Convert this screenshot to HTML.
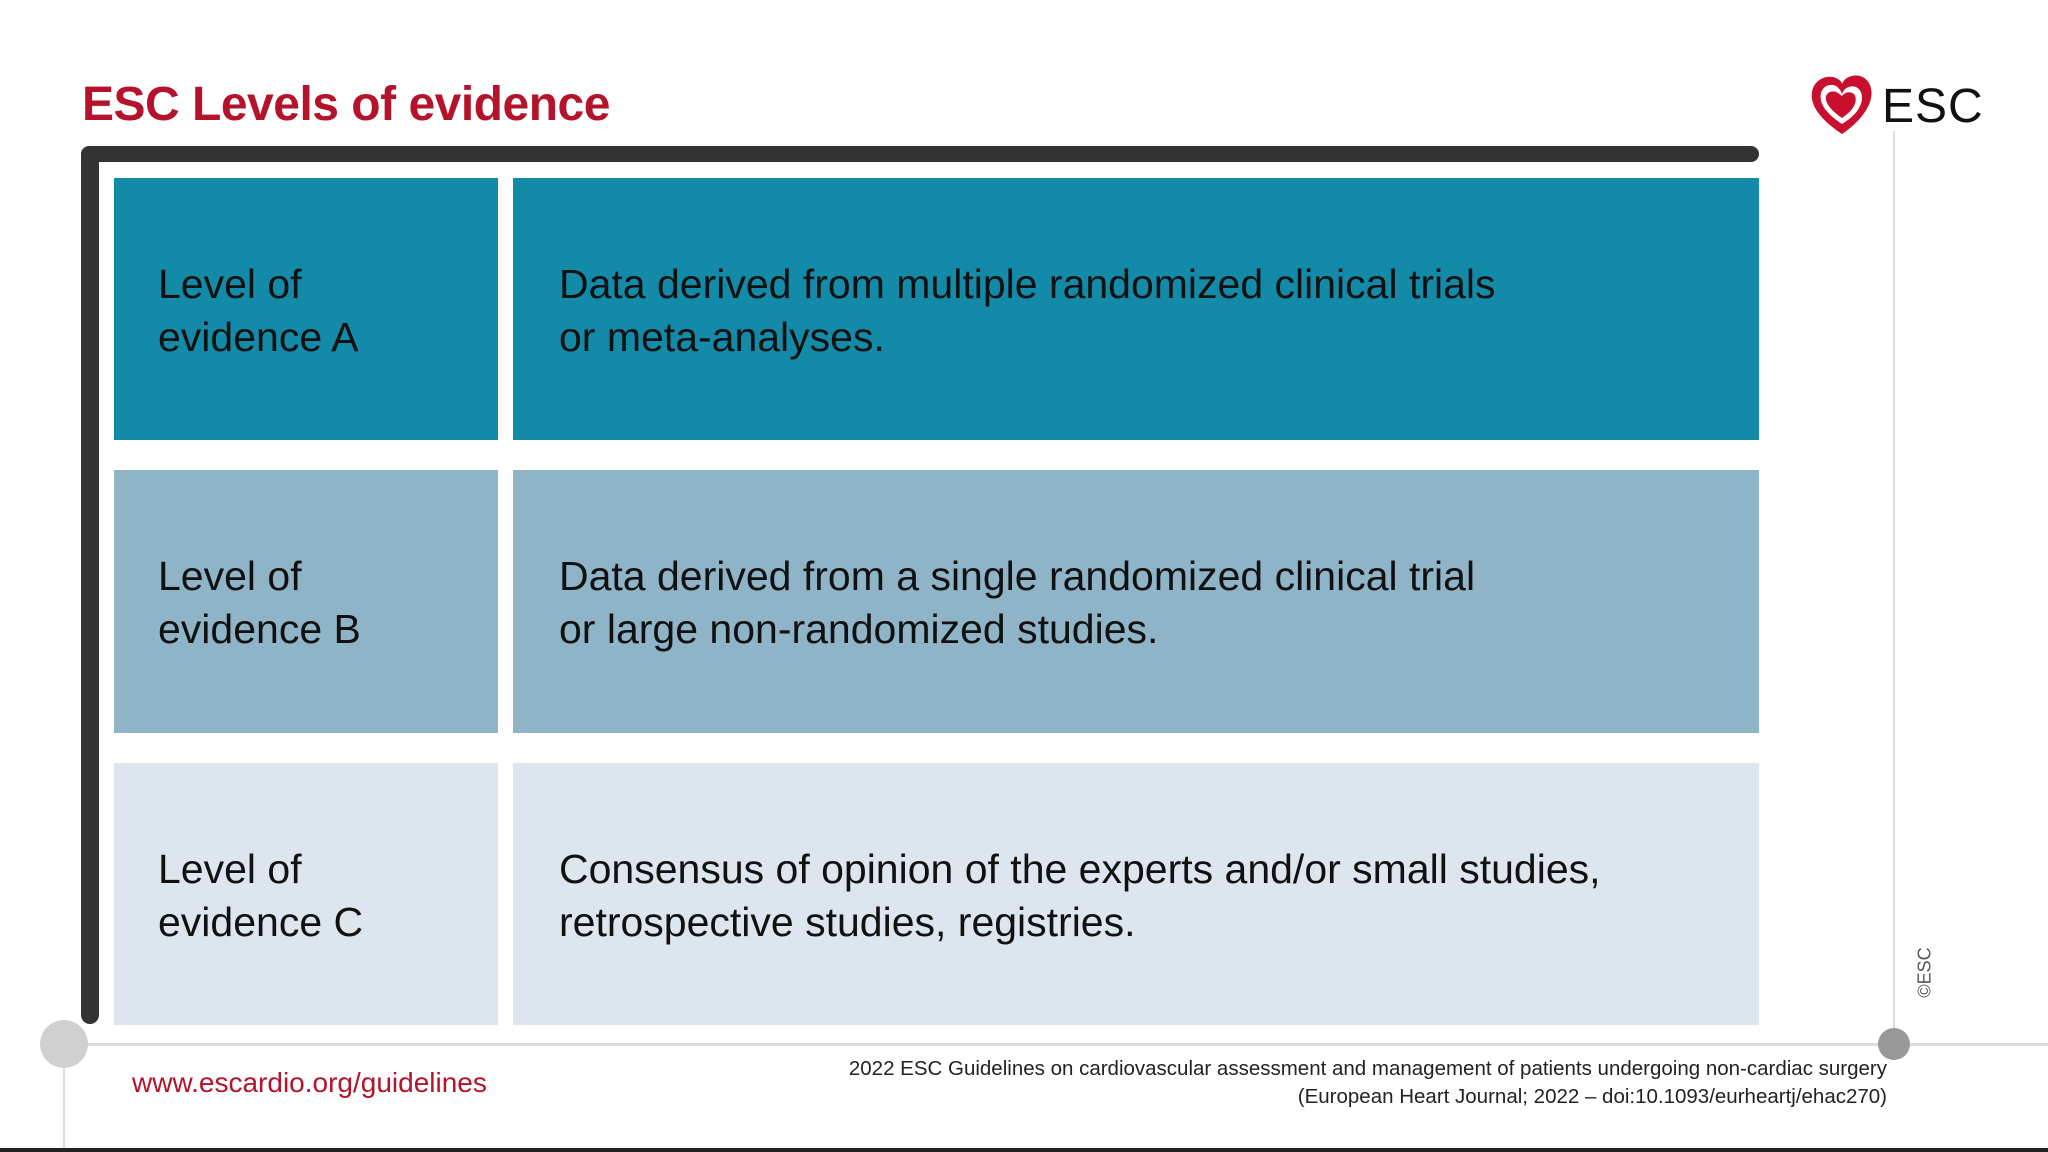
<!DOCTYPE html>
<html><head><meta charset="utf-8"><style>
body{margin:0;width:2048px;height:1152px;position:relative;background:#fff;overflow:hidden;font-family:"Liberation Sans",sans-serif}
div{position:absolute;box-sizing:border-box}
.cell{font-size:41px;line-height:53px;color:#111;padding-top:80px}
.l{left:114px;width:384px;padding-left:44px}
.r{left:513px;width:1246px;padding-left:46px}
</style></head><body>
<div style="left:82px;top:77px;font-size:48px;font-weight:bold;color:#b5132b;letter-spacing:-0.5px">ESC Levels of evidence</div>
<svg style="position:absolute;left:1808px;top:72px" width="68" height="66" viewBox="0 0 68 66"><path d="M34 62 C10 46 2 32 4 20 C6 8 18 2 28 6 C32 8 34 10 34 12 C36 6 44 2 52 4 C62 7 66 18 62 30 C58 42 46 54 34 62Z" fill="#c8102e"/><path d="M34 52 C16 40 11 30 13 21 C15 14 22 11 28 14 C31 16 33 19 34 22 C36 16 42 13 48 15 C54 18 56 26 52 34 C49 41 42 47 34 52Z" fill="#fff"/><path d="M34 46 C21 37 17 30 18 24 C20 19 26 18 30 21 L34 24 C37 20 42 19 46 22 C49 26 48 32 44 37 C41 41 38 43 34 46Z" fill="#c8102e"/></svg>
<div style="left:1882px;top:79px;font-size:48px;color:#111;letter-spacing:1px">ESC</div>
<div style="left:81px;top:146px;width:1678px;height:16px;background:#333;border-radius:8px"></div>
<div style="left:81px;top:146px;width:18px;height:878px;background:#333;border-radius:9px"></div>
<div class="cell l" style="top:178px;height:262px;background:#138aa8">Level of<br>evidence A</div>
<div class="cell r" style="top:178px;height:262px;background:#138aa8">Data derived from multiple randomized clinical trials<br>or meta-analyses.</div>
<div class="cell l" style="top:470px;height:263px;background:#8fb4c7">Level of<br>evidence B</div>
<div class="cell r" style="top:470px;height:263px;background:#8fb4c7">Data derived from a single randomized clinical trial<br>or large non-randomized studies.</div>
<div class="cell l" style="top:763px;height:262px;background:#dde5ee">Level of<br>evidence C</div>
<div class="cell r" style="top:763px;height:262px;background:#dde5ee">Consensus of opinion of the experts and/or small studies,<br>retrospective studies, registries.</div>
<div style="left:1893px;top:131px;width:2px;height:913px;background:#ddd"></div>
<div style="left:64px;top:1043px;width:1984px;height:3px;background:#ddd"></div>
<div style="left:63px;top:1044px;width:2px;height:108px;background:#ddd"></div>
<div style="left:40px;top:1020px;width:48px;height:48px;border-radius:50%;background:#d0d0d0"></div>
<div style="left:1878px;top:1028px;width:32px;height:32px;border-radius:50%;background:#999"></div>
<div style="left:1900px;top:962px;font-size:18px;color:#555;transform:rotate(-90deg)">©ESC</div>
<div style="left:132px;top:1067px;font-size:28px;color:#b5132b">www.escardio.org/guidelines</div>
<div style="right:161px;top:1055px;font-size:20.5px;line-height:28px;color:#222;text-align:right">2022 ESC Guidelines on cardiovascular assessment and management of patients undergoing non-cardiac surgery<br>(European Heart Journal; 2022 – doi:10.1093/eurheartj/ehac270)</div>
<div style="left:0;top:1148px;width:2048px;height:4px;background:#222"></div>
</body></html>
